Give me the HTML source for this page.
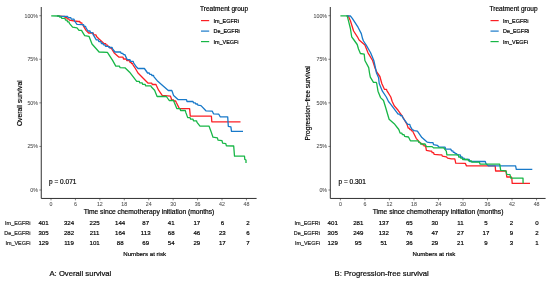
<!DOCTYPE html>
<html><head><meta charset="utf-8"><title>Kaplan-Meier survival curves</title>
<style>
html,body{margin:0;padding:0;background:#fff;}
svg{display:block;font-family:"Liberation Sans",Arial,Helvetica,sans-serif;}
</style></head>
<body>
<svg width="550" height="281" viewBox="0 0 550 281">
<rect width="550" height="281" fill="#fff"/>
<g id="panelA">
<path d="M41.25,7V198.45H256.6" fill="none" stroke="#303030" stroke-width="1.0"/>
<path d="M39.35,15.70H41.25" stroke="#333" stroke-width="0.6"/>
<text x="37.95" y="17.70" font-size="5.25" text-anchor="end" fill="#4d4d4d" stroke="#4d4d4d" stroke-width="0.06" >100%</text>
<path d="M39.35,59.28H41.25" stroke="#333" stroke-width="0.6"/>
<text x="37.95" y="61.28" font-size="5.25" text-anchor="end" fill="#4d4d4d" stroke="#4d4d4d" stroke-width="0.06" >75%</text>
<path d="M39.35,102.85H41.25" stroke="#333" stroke-width="0.6"/>
<text x="37.95" y="104.85" font-size="5.25" text-anchor="end" fill="#4d4d4d" stroke="#4d4d4d" stroke-width="0.06" >50%</text>
<path d="M39.35,146.43H41.25" stroke="#333" stroke-width="0.6"/>
<text x="37.95" y="148.43" font-size="5.25" text-anchor="end" fill="#4d4d4d" stroke="#4d4d4d" stroke-width="0.06" >25%</text>
<path d="M39.35,190.00H41.25" stroke="#333" stroke-width="0.6"/>
<text x="37.95" y="192.00" font-size="5.25" text-anchor="end" fill="#4d4d4d" stroke="#4d4d4d" stroke-width="0.06" >0%</text>
<path d="M51.00,198.45v1.9" stroke="#333" stroke-width="0.6"/>
<text x="51.00" y="205.7" font-size="5.25" text-anchor="middle" fill="#4d4d4d" stroke="#4d4d4d" stroke-width="0.06" >0</text>
<path d="M75.43,198.45v1.9" stroke="#333" stroke-width="0.6"/>
<text x="75.43" y="205.7" font-size="5.25" text-anchor="middle" fill="#4d4d4d" stroke="#4d4d4d" stroke-width="0.06" >6</text>
<path d="M99.86,198.45v1.9" stroke="#333" stroke-width="0.6"/>
<text x="99.86" y="205.7" font-size="5.25" text-anchor="middle" fill="#4d4d4d" stroke="#4d4d4d" stroke-width="0.06" >12</text>
<path d="M124.29,198.45v1.9" stroke="#333" stroke-width="0.6"/>
<text x="124.29" y="205.7" font-size="5.25" text-anchor="middle" fill="#4d4d4d" stroke="#4d4d4d" stroke-width="0.06" >18</text>
<path d="M148.72,198.45v1.9" stroke="#333" stroke-width="0.6"/>
<text x="148.72" y="205.7" font-size="5.25" text-anchor="middle" fill="#4d4d4d" stroke="#4d4d4d" stroke-width="0.06" >24</text>
<path d="M173.15,198.45v1.9" stroke="#333" stroke-width="0.6"/>
<text x="173.15" y="205.7" font-size="5.25" text-anchor="middle" fill="#4d4d4d" stroke="#4d4d4d" stroke-width="0.06" >30</text>
<path d="M197.58,198.45v1.9" stroke="#333" stroke-width="0.6"/>
<text x="197.58" y="205.7" font-size="5.25" text-anchor="middle" fill="#4d4d4d" stroke="#4d4d4d" stroke-width="0.06" >36</text>
<path d="M222.01,198.45v1.9" stroke="#333" stroke-width="0.6"/>
<text x="222.01" y="205.7" font-size="5.25" text-anchor="middle" fill="#4d4d4d" stroke="#4d4d4d" stroke-width="0.06" >42</text>
<path d="M246.44,198.45v1.9" stroke="#333" stroke-width="0.6"/>
<text x="246.44" y="205.7" font-size="5.25" text-anchor="middle" fill="#4d4d4d" stroke="#4d4d4d" stroke-width="0.06" >48</text>
<text x="149.03" y="214.2" font-size="6.68" text-anchor="middle" fill="#000" stroke="#000" stroke-width="0.18" >Time since chemotherapy initiation (months)</text>
<text transform="translate(21.8,103.22) rotate(-90)" font-size="6.7" text-anchor="middle" stroke="#000" stroke-width="0.18">Overall survival</text>
<path d="M57.2,15.9L63.0,16.3H64.6L65.1,17.6H66.8L67.3,18.9H68.9L69.4,20.2L74.5,21.0L78.3,21.5H79.8L80.2,22.8H81.7L82.2,24.0L86.0,30.4L88.6,33.0H93.2L93.7,34.9H96.0L96.5,36.5L98.8,38.8L104.2,43.7H105.7L106.2,45.2H107.6L108.1,46.6H109.5L110.0,48.0H111.5L112.0,49.5L114.5,53.3L119.0,57.2H123.0L123.5,59.0H126.2L126.8,60.6H129.5L130.0,62.3H131.0L131.5,63.5H132.5L133.0,64.8L135.4,68.5L138.0,73.0L143.7,78.7L148.2,83.2H151.8L152.3,84.5H156.0L156.5,85.8L158.6,90.2L162.2,95.3L170.5,96.2L171.7,99.8H173.4L173.9,101.0H175.7L176.2,102.2L179.4,108.6L189.6,108.6L190.3,116.2L211.4,116.2L211.8,121.8L240.5,121.8" fill="none" stroke="#FB1F24" stroke-width="1.3" stroke-linejoin="round" stroke-linecap="butt"/>
<path d="M57.2,15.9L61.7,16.3H67.5L68.0,17.6H70.8L71.2,19.2H74.0L74.5,20.8L77.0,24.4L82.2,24.7H83.6L84.1,26.3H85.5L86.0,27.9L88.0,31.0H90.0L90.5,32.6H92.5L93.0,34.3L96.3,39.8H98.3L98.8,41.6H100.9L101.4,43.5H103.0L103.5,44.9H105.0L105.5,46.3H108.5L109.0,47.5H112.1L112.6,48.8L115.0,52.0L119.0,52.0H120.6L121.1,53.3H122.8L123.3,54.6H124.9L125.4,55.9L127.3,59.7H130.0L130.5,61.4H133.2L133.7,63.0L136.3,66.8L138.0,68.5L144.4,68.5L147.6,73.0H149.2L149.7,74.3H151.4L151.9,75.5H153.5L154.0,76.8L157.2,80.7L162.3,85.2L168.3,90.5H171.8L172.3,91.8L173.6,95.6L178.0,99.6H186.5L187.0,101.5H193.0L193.5,102.8H195.2L195.8,104.0H197.5L198.0,105.2L201.0,105.6L205.9,110.8L212.3,111.2L213.5,113.8L218.8,114.2L220.2,116.8L227.7,116.9L228.3,126.3L230.9,126.9L231.5,131.4L243.0,131.4" fill="none" stroke="#1879C9" stroke-width="1.3" stroke-linejoin="round" stroke-linecap="butt"/>
<path d="M51.2,15.8L57.8,16.0H59.2L59.8,17.1H61.2L61.7,18.3H65.0L65.5,20.2H67.0L67.5,21.8H68.9L69.4,23.4L72.6,27.2L77.0,27.9L79.0,30.4H81.7L82.2,31.7L84.7,35.6L89.0,36.3L92.0,44.0L99.1,52.0L107.4,52.4L112.6,60.4L115.8,66.1H119.5L120.0,67.6L125.0,67.8L129.6,72.2L136.7,81.3H139.2L139.7,82.8H142.1L142.6,84.3H145.1L145.6,85.8H150.9L151.4,87.0L154.6,90.3L157.1,96.5L166.4,96.5L169.2,100.5H173.7L174.2,102.2L176.8,108.6H180.1L180.6,110.5H185.3L185.8,112.4L187.7,117.6H190.1L190.6,119.2H193.0L193.5,120.8H196.5L197.0,122.4L200.0,126.1L209.0,126.1L211.0,131.4L213.0,137.2L217.4,137.8L218.0,140.1L222.0,140.6L222.6,143.2L225.8,143.6L226.4,145.8L233.7,146.0L234.5,156.2L244.5,156.2L244.8,159.4L246.0,160.0L246.0,163.1" fill="none" stroke="#17B646" stroke-width="1.3" stroke-linejoin="round" stroke-linecap="butt"/>
<text x="49.1" y="183.9" font-size="6.5" text-anchor="start" fill="#000" stroke="#000" stroke-width="0.18" >p = 0.071</text>
<text x="200.0" y="11.1" font-size="6.55" text-anchor="start" fill="#000" stroke="#000" stroke-width="0.18" >Treatment group</text>
<path d="M201.0,20.6h8.2" stroke="#FB1F24" stroke-width="1.2"/>
<text x="213.5" y="22.6" font-size="5.45" text-anchor="start" fill="#000" stroke="#000" stroke-width="0.18" >Im_EGFRi</text>
<path d="M201.0,31.1h8.2" stroke="#1879C9" stroke-width="1.2"/>
<text x="213.5" y="33.1" font-size="5.45" text-anchor="start" fill="#000" stroke="#000" stroke-width="0.18" >De_EGFRi</text>
<path d="M201.0,41.6h8.2" stroke="#17B646" stroke-width="1.2"/>
<text x="213.5" y="43.6" font-size="5.45" text-anchor="start" fill="#000" stroke="#000" stroke-width="0.18" >Im_VEGFi</text>
<text x="30.5" y="225.4" font-size="5.45" text-anchor="end" fill="#222" stroke="#222" stroke-width="0.18" >Im_EGFRi</text>
<text x="43.50" y="225.4" font-size="6.1" text-anchor="middle" fill="#000" stroke="#000" stroke-width="0.18" >401</text>
<text x="69.05" y="225.4" font-size="6.1" text-anchor="middle" fill="#000" stroke="#000" stroke-width="0.18" >324</text>
<text x="94.60" y="225.4" font-size="6.1" text-anchor="middle" fill="#000" stroke="#000" stroke-width="0.18" >225</text>
<text x="120.15" y="225.4" font-size="6.1" text-anchor="middle" fill="#000" stroke="#000" stroke-width="0.18" >144</text>
<text x="145.70" y="225.4" font-size="6.1" text-anchor="middle" fill="#000" stroke="#000" stroke-width="0.18" >87</text>
<text x="171.25" y="225.4" font-size="6.1" text-anchor="middle" fill="#000" stroke="#000" stroke-width="0.18" >41</text>
<text x="196.80" y="225.4" font-size="6.1" text-anchor="middle" fill="#000" stroke="#000" stroke-width="0.18" >17</text>
<text x="222.35" y="225.4" font-size="6.1" text-anchor="middle" fill="#000" stroke="#000" stroke-width="0.18" >6</text>
<text x="247.90" y="225.4" font-size="6.1" text-anchor="middle" fill="#000" stroke="#000" stroke-width="0.18" >2</text>
<text x="30.5" y="235.1" font-size="5.45" text-anchor="end" fill="#222" stroke="#222" stroke-width="0.18" >De_EGFRi</text>
<text x="43.50" y="235.1" font-size="6.1" text-anchor="middle" fill="#000" stroke="#000" stroke-width="0.18" >305</text>
<text x="69.05" y="235.1" font-size="6.1" text-anchor="middle" fill="#000" stroke="#000" stroke-width="0.18" >282</text>
<text x="94.60" y="235.1" font-size="6.1" text-anchor="middle" fill="#000" stroke="#000" stroke-width="0.18" >211</text>
<text x="120.15" y="235.1" font-size="6.1" text-anchor="middle" fill="#000" stroke="#000" stroke-width="0.18" >164</text>
<text x="145.70" y="235.1" font-size="6.1" text-anchor="middle" fill="#000" stroke="#000" stroke-width="0.18" >113</text>
<text x="171.25" y="235.1" font-size="6.1" text-anchor="middle" fill="#000" stroke="#000" stroke-width="0.18" >68</text>
<text x="196.80" y="235.1" font-size="6.1" text-anchor="middle" fill="#000" stroke="#000" stroke-width="0.18" >46</text>
<text x="222.35" y="235.1" font-size="6.1" text-anchor="middle" fill="#000" stroke="#000" stroke-width="0.18" >23</text>
<text x="247.90" y="235.1" font-size="6.1" text-anchor="middle" fill="#000" stroke="#000" stroke-width="0.18" >6</text>
<text x="30.5" y="244.8" font-size="5.45" text-anchor="end" fill="#222" stroke="#222" stroke-width="0.18" >Im_VEGFi</text>
<text x="43.50" y="244.8" font-size="6.1" text-anchor="middle" fill="#000" stroke="#000" stroke-width="0.18" >129</text>
<text x="69.05" y="244.8" font-size="6.1" text-anchor="middle" fill="#000" stroke="#000" stroke-width="0.18" >119</text>
<text x="94.60" y="244.8" font-size="6.1" text-anchor="middle" fill="#000" stroke="#000" stroke-width="0.18" >101</text>
<text x="120.15" y="244.8" font-size="6.1" text-anchor="middle" fill="#000" stroke="#000" stroke-width="0.18" >88</text>
<text x="145.70" y="244.8" font-size="6.1" text-anchor="middle" fill="#000" stroke="#000" stroke-width="0.18" >69</text>
<text x="171.25" y="244.8" font-size="6.1" text-anchor="middle" fill="#000" stroke="#000" stroke-width="0.18" >54</text>
<text x="196.80" y="244.8" font-size="6.1" text-anchor="middle" fill="#000" stroke="#000" stroke-width="0.18" >29</text>
<text x="222.35" y="244.8" font-size="6.1" text-anchor="middle" fill="#000" stroke="#000" stroke-width="0.18" >17</text>
<text x="247.90" y="244.8" font-size="6.1" text-anchor="middle" fill="#000" stroke="#000" stroke-width="0.18" >7</text>
<text x="144.70" y="255.8" font-size="6.12" text-anchor="middle" fill="#000" stroke="#000" stroke-width="0.18" >Numbers at risk</text>
<text x="49.5" y="275.8" font-size="7.68" fill="#0a0a0a" stroke="#0a0a0a" stroke-width="0.2">A: Overall survival</text>
</g>
<g id="panelB">
<path d="M330.3,7V198.45H545.6" fill="none" stroke="#303030" stroke-width="1.0"/>
<path d="M328.40000000000003,15.70H330.3" stroke="#333" stroke-width="0.6"/>
<text x="327.0" y="17.70" font-size="5.25" text-anchor="end" fill="#4d4d4d" stroke="#4d4d4d" stroke-width="0.06" >100%</text>
<path d="M328.40000000000003,59.28H330.3" stroke="#333" stroke-width="0.6"/>
<text x="327.0" y="61.28" font-size="5.25" text-anchor="end" fill="#4d4d4d" stroke="#4d4d4d" stroke-width="0.06" >75%</text>
<path d="M328.40000000000003,102.85H330.3" stroke="#333" stroke-width="0.6"/>
<text x="327.0" y="104.85" font-size="5.25" text-anchor="end" fill="#4d4d4d" stroke="#4d4d4d" stroke-width="0.06" >50%</text>
<path d="M328.40000000000003,146.43H330.3" stroke="#333" stroke-width="0.6"/>
<text x="327.0" y="148.43" font-size="5.25" text-anchor="end" fill="#4d4d4d" stroke="#4d4d4d" stroke-width="0.06" >25%</text>
<path d="M328.40000000000003,190.00H330.3" stroke="#333" stroke-width="0.6"/>
<text x="327.0" y="192.00" font-size="5.25" text-anchor="end" fill="#4d4d4d" stroke="#4d4d4d" stroke-width="0.06" >0%</text>
<path d="M340.40,198.45v1.9" stroke="#333" stroke-width="0.6"/>
<text x="340.40" y="205.7" font-size="5.25" text-anchor="middle" fill="#4d4d4d" stroke="#4d4d4d" stroke-width="0.06" >0</text>
<path d="M364.92,198.45v1.9" stroke="#333" stroke-width="0.6"/>
<text x="364.92" y="205.7" font-size="5.25" text-anchor="middle" fill="#4d4d4d" stroke="#4d4d4d" stroke-width="0.06" >6</text>
<path d="M389.44,198.45v1.9" stroke="#333" stroke-width="0.6"/>
<text x="389.44" y="205.7" font-size="5.25" text-anchor="middle" fill="#4d4d4d" stroke="#4d4d4d" stroke-width="0.06" >12</text>
<path d="M413.96,198.45v1.9" stroke="#333" stroke-width="0.6"/>
<text x="413.96" y="205.7" font-size="5.25" text-anchor="middle" fill="#4d4d4d" stroke="#4d4d4d" stroke-width="0.06" >18</text>
<path d="M438.48,198.45v1.9" stroke="#333" stroke-width="0.6"/>
<text x="438.48" y="205.7" font-size="5.25" text-anchor="middle" fill="#4d4d4d" stroke="#4d4d4d" stroke-width="0.06" >24</text>
<path d="M463.00,198.45v1.9" stroke="#333" stroke-width="0.6"/>
<text x="463.00" y="205.7" font-size="5.25" text-anchor="middle" fill="#4d4d4d" stroke="#4d4d4d" stroke-width="0.06" >30</text>
<path d="M487.52,198.45v1.9" stroke="#333" stroke-width="0.6"/>
<text x="487.52" y="205.7" font-size="5.25" text-anchor="middle" fill="#4d4d4d" stroke="#4d4d4d" stroke-width="0.06" >36</text>
<path d="M512.04,198.45v1.9" stroke="#333" stroke-width="0.6"/>
<text x="512.04" y="205.7" font-size="5.25" text-anchor="middle" fill="#4d4d4d" stroke="#4d4d4d" stroke-width="0.06" >42</text>
<path d="M536.56,198.45v1.9" stroke="#333" stroke-width="0.6"/>
<text x="536.56" y="205.7" font-size="5.25" text-anchor="middle" fill="#4d4d4d" stroke="#4d4d4d" stroke-width="0.06" >48</text>
<text x="438.05" y="214.2" font-size="6.68" text-anchor="middle" fill="#000" stroke="#000" stroke-width="0.18" >Time since chemotherapy initiation (months)</text>
<text transform="translate(310.1,103.22) rotate(-90)" font-size="6.6" text-anchor="middle" stroke="#000" stroke-width="0.18">Progression−free survival</text>
<path d="M346.6,15.9L348.3,16.0L350.4,20.8L353.6,31.0L357.4,36.8L359.1,40.0L364.9,45.1L368.0,52.8L372.6,60.5L375.1,68.2L376.7,72.0L379.9,76.5L381.8,83.5L384.4,89.3H386.4L386.9,90.6L390.8,97.0L392.2,101.5L394.2,105.8L398.1,110.3L402.6,116.7L407.0,124.4L408.3,128.2H409.4L409.9,129.5H411.1L411.6,130.9H412.7L413.2,132.2L416.2,138.3L420.6,143.4H421.8L422.3,144.7H423.6L424.1,145.9H425.3L425.8,147.2L426.4,150.4L430.3,151.1H431.7L432.2,152.7H433.6L434.1,154.3L439.9,154.9H441.9L442.4,156.2L446.3,156.8L447.6,158.1L451.4,158.8H454.8L455.3,161.0L455.7,163.2L465.3,163.4L466.5,165.9L495.2,165.9L495.6,171.0L506.0,171.0L506.8,177.0H511.3L511.8,178.1L512.2,183.4L530.0,183.4" fill="none" stroke="#FB1F24" stroke-width="1.3" stroke-linejoin="round" stroke-linecap="butt"/>
<path d="M346.6,15.9L350.4,16.0L352.3,18.3L358.0,27.2L361.3,33.6L362.6,38.8L363.5,41.0L366.2,45.1L370.6,52.8L373.8,60.5L375.8,69.5L376.5,73.0L378.6,77.8L379.2,83.5L382.4,91.2L386.3,97.0L388.5,101.5L390.4,103.8L398.1,114.1H399.9L400.4,115.7H402.1L402.6,117.3L407.7,124.4H409.8L410.3,126.3L412.2,129.5L414.2,130.6L417.4,131.2L421.9,137.6L427.1,142.1L430.3,142.7H433.0L433.5,144.7L437.3,145.3L439.2,147.2L443.1,147.2H445.1L445.6,149.2L449.5,149.2H450.9L451.4,150.8H452.8L453.3,152.4H454.8L455.2,153.7H456.7L457.2,154.9H460.3L460.8,157.0H462.2L462.7,158.2H464.1L464.6,159.5H469.2L469.7,161.5L482.6,161.5H485.3L485.8,163.4L488.3,165.9L515.6,165.9L516.3,169.4L532.3,169.4" fill="none" stroke="#1879C9" stroke-width="1.3" stroke-linejoin="round" stroke-linecap="butt"/>
<path d="M340.4,15.8L347.2,15.8L348.5,20.8L350.4,28.5L351.7,36.8L354.0,40.0L357.2,44.5L358.5,49.0L360.4,53.5L364.2,54.1L364.9,60.5L368.7,67.6L369.5,73.0L370.3,77.1L373.5,82.3H376.2L376.7,83.5L378.0,91.2L380.5,97.6L383.5,100.5L385.5,107.0L389.1,119.2L394.2,123.7L398.8,129.5L400.1,133.1H401.9L402.4,134.7H404.1L404.6,136.3L408.5,137.0L410.4,140.8L416.8,140.8H418.2L418.7,142.4H420.1L420.6,144.0L425.1,144.0L426.4,146.6L432.2,146.6L433.5,147.9L443.7,147.9L446.3,151.1L446.9,154.9L455.3,154.9H458.3L458.8,157.0H460.2L460.8,158.2H462.2L462.7,159.5H468.0L468.5,160.8H471.2L471.7,162.1L479.4,162.1L480.0,164.0L499.7,164.1L500.7,170.4L506.0,170.8L506.8,174.3L510.0,174.7L510.8,178.1L523.0,178.1L523.1,183.5" fill="none" stroke="#17B646" stroke-width="1.3" stroke-linejoin="round" stroke-linecap="butt"/>
<text x="338.5" y="183.9" font-size="6.5" text-anchor="start" fill="#000" stroke="#000" stroke-width="0.18" >p = 0.301</text>
<text x="489.5" y="11.1" font-size="6.55" text-anchor="start" fill="#000" stroke="#000" stroke-width="0.18" >Treatment group</text>
<path d="M490.5,20.6h8.2" stroke="#FB1F24" stroke-width="1.2"/>
<text x="503.0" y="22.6" font-size="5.45" text-anchor="start" fill="#000" stroke="#000" stroke-width="0.18" >Im_EGFRi</text>
<path d="M490.5,31.1h8.2" stroke="#1879C9" stroke-width="1.2"/>
<text x="503.0" y="33.1" font-size="5.45" text-anchor="start" fill="#000" stroke="#000" stroke-width="0.18" >De_EGFRi</text>
<path d="M490.5,41.6h8.2" stroke="#17B646" stroke-width="1.2"/>
<text x="503.0" y="43.6" font-size="5.45" text-anchor="start" fill="#000" stroke="#000" stroke-width="0.18" >Im_VEGFi</text>
<text x="320.0" y="225.4" font-size="5.45" text-anchor="end" fill="#222" stroke="#222" stroke-width="0.18" >Im_EGFRi</text>
<text x="332.70" y="225.4" font-size="6.1" text-anchor="middle" fill="#000" stroke="#000" stroke-width="0.18" >401</text>
<text x="358.24" y="225.4" font-size="6.1" text-anchor="middle" fill="#000" stroke="#000" stroke-width="0.18" >281</text>
<text x="383.78" y="225.4" font-size="6.1" text-anchor="middle" fill="#000" stroke="#000" stroke-width="0.18" >137</text>
<text x="409.32" y="225.4" font-size="6.1" text-anchor="middle" fill="#000" stroke="#000" stroke-width="0.18" >65</text>
<text x="434.86" y="225.4" font-size="6.1" text-anchor="middle" fill="#000" stroke="#000" stroke-width="0.18" >30</text>
<text x="460.40" y="225.4" font-size="6.1" text-anchor="middle" fill="#000" stroke="#000" stroke-width="0.18" >11</text>
<text x="485.94" y="225.4" font-size="6.1" text-anchor="middle" fill="#000" stroke="#000" stroke-width="0.18" >5</text>
<text x="511.48" y="225.4" font-size="6.1" text-anchor="middle" fill="#000" stroke="#000" stroke-width="0.18" >2</text>
<text x="537.02" y="225.4" font-size="6.1" text-anchor="middle" fill="#000" stroke="#000" stroke-width="0.18" >0</text>
<text x="320.0" y="235.1" font-size="5.45" text-anchor="end" fill="#222" stroke="#222" stroke-width="0.18" >De_EGFRi</text>
<text x="332.70" y="235.1" font-size="6.1" text-anchor="middle" fill="#000" stroke="#000" stroke-width="0.18" >305</text>
<text x="358.24" y="235.1" font-size="6.1" text-anchor="middle" fill="#000" stroke="#000" stroke-width="0.18" >249</text>
<text x="383.78" y="235.1" font-size="6.1" text-anchor="middle" fill="#000" stroke="#000" stroke-width="0.18" >132</text>
<text x="409.32" y="235.1" font-size="6.1" text-anchor="middle" fill="#000" stroke="#000" stroke-width="0.18" >76</text>
<text x="434.86" y="235.1" font-size="6.1" text-anchor="middle" fill="#000" stroke="#000" stroke-width="0.18" >47</text>
<text x="460.40" y="235.1" font-size="6.1" text-anchor="middle" fill="#000" stroke="#000" stroke-width="0.18" >27</text>
<text x="485.94" y="235.1" font-size="6.1" text-anchor="middle" fill="#000" stroke="#000" stroke-width="0.18" >17</text>
<text x="511.48" y="235.1" font-size="6.1" text-anchor="middle" fill="#000" stroke="#000" stroke-width="0.18" >9</text>
<text x="537.02" y="235.1" font-size="6.1" text-anchor="middle" fill="#000" stroke="#000" stroke-width="0.18" >2</text>
<text x="320.0" y="244.8" font-size="5.45" text-anchor="end" fill="#222" stroke="#222" stroke-width="0.18" >Im_VEGFi</text>
<text x="332.70" y="244.8" font-size="6.1" text-anchor="middle" fill="#000" stroke="#000" stroke-width="0.18" >129</text>
<text x="358.24" y="244.8" font-size="6.1" text-anchor="middle" fill="#000" stroke="#000" stroke-width="0.18" >95</text>
<text x="383.78" y="244.8" font-size="6.1" text-anchor="middle" fill="#000" stroke="#000" stroke-width="0.18" >51</text>
<text x="409.32" y="244.8" font-size="6.1" text-anchor="middle" fill="#000" stroke="#000" stroke-width="0.18" >36</text>
<text x="434.86" y="244.8" font-size="6.1" text-anchor="middle" fill="#000" stroke="#000" stroke-width="0.18" >29</text>
<text x="460.40" y="244.8" font-size="6.1" text-anchor="middle" fill="#000" stroke="#000" stroke-width="0.18" >21</text>
<text x="485.94" y="244.8" font-size="6.1" text-anchor="middle" fill="#000" stroke="#000" stroke-width="0.18" >9</text>
<text x="511.48" y="244.8" font-size="6.1" text-anchor="middle" fill="#000" stroke="#000" stroke-width="0.18" >3</text>
<text x="537.02" y="244.8" font-size="6.1" text-anchor="middle" fill="#000" stroke="#000" stroke-width="0.18" >1</text>
<text x="433.86" y="255.8" font-size="6.12" text-anchor="middle" fill="#000" stroke="#000" stroke-width="0.18" >Numbers at risk</text>
<text x="334.6" y="275.8" font-size="7.68" fill="#0a0a0a" stroke="#0a0a0a" stroke-width="0.2">B: Progression-free survival</text>
</g>
</svg>
</body></html>
